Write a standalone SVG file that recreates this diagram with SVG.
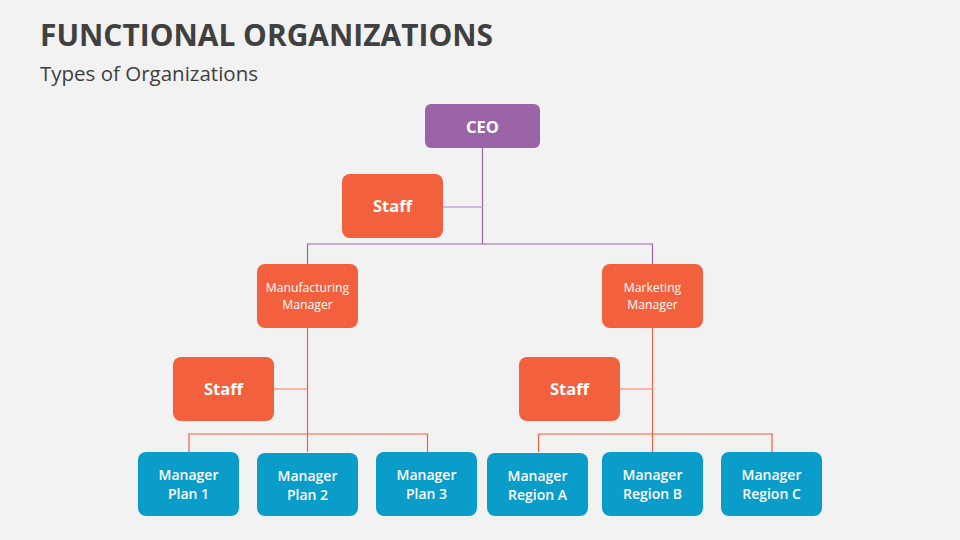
<svg xmlns="http://www.w3.org/2000/svg" width="960" height="540" viewBox="0 0 960 540">
<style>
.bg{fill:#F2F2F2}
.title{font-family:"Open Sans","Liberation Sans",sans-serif;font-weight:bold;fill:#404040}
.sub{font-family:"Open Sans","Liberation Sans",sans-serif;fill:#404040}
.purple{fill:#9B64A8}
.orange{fill:#F2603E}
.blue{fill:#0A9DCA}
.t{font-family:"Open Sans","Liberation Sans",sans-serif;fill:#FFFFFF;text-anchor:middle}
.b{font-weight:bold;font-size:16.5px}
.s{font-size:12.2px}
.m{font-size:14px;font-weight:600}
.lp{stroke:#9B64A8;stroke-width:1.2;fill:none}
.lpl{stroke:#C6A3CF;stroke-width:1.6;fill:none}
.lo{stroke:#F2603E;stroke-width:1.2;fill:none}
.lol{stroke:#F5A08C;stroke-width:1.6;fill:none}
</style>
<rect class="bg" x="0" y="0" width="960" height="540"/>
<text class="title" x="40" y="46" font-size="31" textLength="453" lengthAdjust="spacingAndGlyphs">FUNCTIONAL ORGANIZATIONS</text>
<text class="sub" x="40" y="81" font-size="20" textLength="218" lengthAdjust="spacingAndGlyphs">Types of Organizations</text>
<g id="connectors">
<path class="lp" d="M482.5 148 V244"/>
<path class="lpl" d="M443 207 H482.5"/>
<path class="lp" d="M307.5 264 V244 H652.5 V264"/>
<path class="lo" d="M307.5 328 V434"/>
<path class="lol" d="M274 389 H307.5"/>
<path class="lo" d="M189 452 V434 H427.5 V452 M307.5 434 V452"/>
<path class="lo" d="M652.5 328 V452"/>
<path class="lol" d="M620 389 H652.5"/>
<path class="lo" d="M538.5 452 V434 H772 V452"/>
</g>
<g id="ceo"><rect class="purple" x="425" y="104" width="115" height="44" rx="6"/><text class="t b" x="482.5" y="132.5">CEO</text></g>
<g id="staff-top"><rect class="orange" x="342" y="174" width="101" height="64" rx="8"/><text class="t b" x="392.5" y="212">Staff</text></g>
<g id="manufacturing-manager"><rect class="orange" x="257" y="264" width="101" height="64" rx="8"/><text class="t s" x="307.5" y="291.5">Manufacturing</text><text class="t s" x="307.5" y="308.5">Manager</text></g>
<g id="marketing-manager"><rect class="orange" x="602" y="264" width="101" height="64" rx="8"/><text class="t s" x="652.5" y="291.5">Marketing</text><text class="t s" x="652.5" y="308.5">Manager</text></g>
<g id="staff-left"><rect class="orange" x="173" y="357" width="101" height="64" rx="8"/><text class="t b" x="223.5" y="395">Staff</text></g>
<g id="staff-right"><rect class="orange" x="519" y="357" width="101" height="64" rx="8"/><text class="t b" x="569.5" y="395">Staff</text></g>
<g id="plan1"><rect class="blue" x="138" y="452" width="101" height="64" rx="8"/><text class="t m" x="188.5" y="480">Manager</text><text class="t m" x="188.5" y="499">Plan 1</text></g>
<g id="plan2"><rect class="blue" x="257" y="453" width="101" height="63" rx="8"/><text class="t m" x="307.5" y="481">Manager</text><text class="t m" x="307.5" y="500">Plan 2</text></g>
<g id="plan3"><rect class="blue" x="376" y="452" width="101" height="64" rx="8"/><text class="t m" x="426.5" y="480">Manager</text><text class="t m" x="426.5" y="499">Plan 3</text></g>
<g id="region-a"><rect class="blue" x="487" y="453" width="101" height="63" rx="8"/><text class="t m" x="537.5" y="481">Manager</text><text class="t m" x="537.5" y="500">Region A</text></g>
<g id="region-b"><rect class="blue" x="602" y="452" width="101" height="64" rx="8"/><text class="t m" x="652.5" y="480">Manager</text><text class="t m" x="652.5" y="499">Region B</text></g>
<g id="region-c"><rect class="blue" x="721" y="452" width="101" height="64" rx="8"/><text class="t m" x="771.5" y="480">Manager</text><text class="t m" x="771.5" y="499">Region C</text></g>
</svg>
